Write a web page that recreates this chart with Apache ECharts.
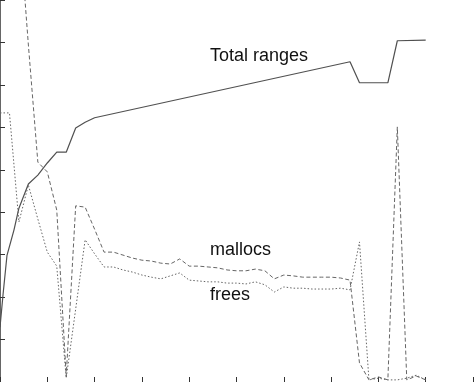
<!DOCTYPE html>
<html>
<head>
<meta charset="utf-8">
<script src="https://cdn.jsdelivr.net/npm/echarts@6/dist/echarts.min.js"></script>
<style>html,body{margin:0;padding:0;background:#fff}#c{width:474px;height:382px}</style>
</head>
<body>
<div id="c"></div>
<script>
// x steps for mallocs / frees
const steps = [0,1,2,3,4,5,6,7,8,9,10,11,12,13,14,15,16,17,18,19,20,21,22,23,24,25,26,27,28,29,30,31,32,33,34,35,36,37,38,39,40,41,42,43,44,45];
const mallocs = [null,null,109,79.4,51.8,49.5,40.5,1.4,41.5,41.2,36.0,30.6,30.6,29.9,29.2,28.7,28.5,28.0,27.8,29.0,27.3,27.3,27.1,26.9,26.4,26.2,26.2,26.6,26.2,24.3,25.2,25.0,24.7,24.7,24.7,24.7,24.5,24.0,4.5,0.5,1.2,0.5,60.1,0.5,1.4,0.5];
const frees = [63.4,63.4,37.7,46.4,38.4,30.6,27.3,0.9,17.2,33.5,30.2,27.1,27.1,26.4,25.9,25.2,24.7,24.3,25.0,25.7,24.0,23.8,23.6,23.6,23.3,23.3,23.1,23.6,22.9,21.2,22.4,22.1,22.1,21.9,21.9,21.9,22.1,21.7,33.0,0.5,0.9,0.5,0.5,0.9,1.6,0.5];
// Total ranges (right axis) vertices
const totalX = [0,0.32,0.74,1.48,2,3,4,5,6,7,8,9,10,37,38,41,42,45];
const totalRanges = [8.6,13.7,19.9,23.9,27.3,31.1,32.5,34.4,36.1,36.1,39.9,40.8,41.5,50.3,47.0,47.0,53.6,53.7];
const labels = ['Total ranges','mallocs','frees'];

const pair = (xs, ys) => xs.map((x, i) => [x, ys[i]]).filter(p => p[1] !== null);

const tickStyle = {show:true, inside:true, length:5, lineStyle:{color:'#333', width:1}};
const chart = echarts.init(document.getElementById('c'), null, {renderer:'canvas'});
chart.setOption({
  animation:false,
  backgroundColor:'#fff',
  grid:{left:0, right:1, top:0, bottom:0, containLabel:false},
  xAxis:[
    {type:'value', min:0, max:50, interval:5, position:'bottom', axisLine:{show:false}, axisTick:tickStyle, axisLabel:{show:false}, splitLine:{show:false}},
    {type:'value', min:0, max:50, interval:5, position:'top', axisLine:{show:false}, axisTick:tickStyle, axisLabel:{show:false}, splitLine:{show:false}}
  ],
  yAxis:[
    {type:'value', min:0, max:90, interval:10, position:'left', axisLine:{show:false}, axisTick:tickStyle, axisLabel:{show:false}, splitLine:{show:false}},
    {type:'value', min:0, max:60, interval:10, position:'right', axisLine:{show:true, lineStyle:{color:'#666', width:2}}, axisTick:tickStyle, axisLabel:{show:false}, splitLine:{show:false}}
  ],
  series:[
    {name:labels[0], type:'line', yAxisIndex:1, data:pair(totalX, totalRanges), symbol:'none', lineStyle:{color:'#505050', width:1.2}},
    {name:labels[1], type:'line', yAxisIndex:0, data:pair(steps, mallocs), symbol:'none', lineStyle:{color:'#666', width:1, type:[4,2.5]}},
    {name:labels[2], type:'line', yAxisIndex:0, data:pair(steps, frees), symbol:'none', lineStyle:{color:'#666', width:1, type:[1.5,2]}}
  ],
  graphic:[
    {type:'text', left:210, top:47, style:{text:labels[0], font:'18px "Liberation Sans", Arial, sans-serif', fill:'#111'}},
    {type:'text', left:210, top:241, style:{text:labels[1], font:'18px "Liberation Sans", Arial, sans-serif', fill:'#111'}},
    {type:'text', left:210, top:286, style:{text:labels[2], font:'18px "Liberation Sans", Arial, sans-serif', fill:'#111'}}
  ]
});
</script>
</body>
</html>
